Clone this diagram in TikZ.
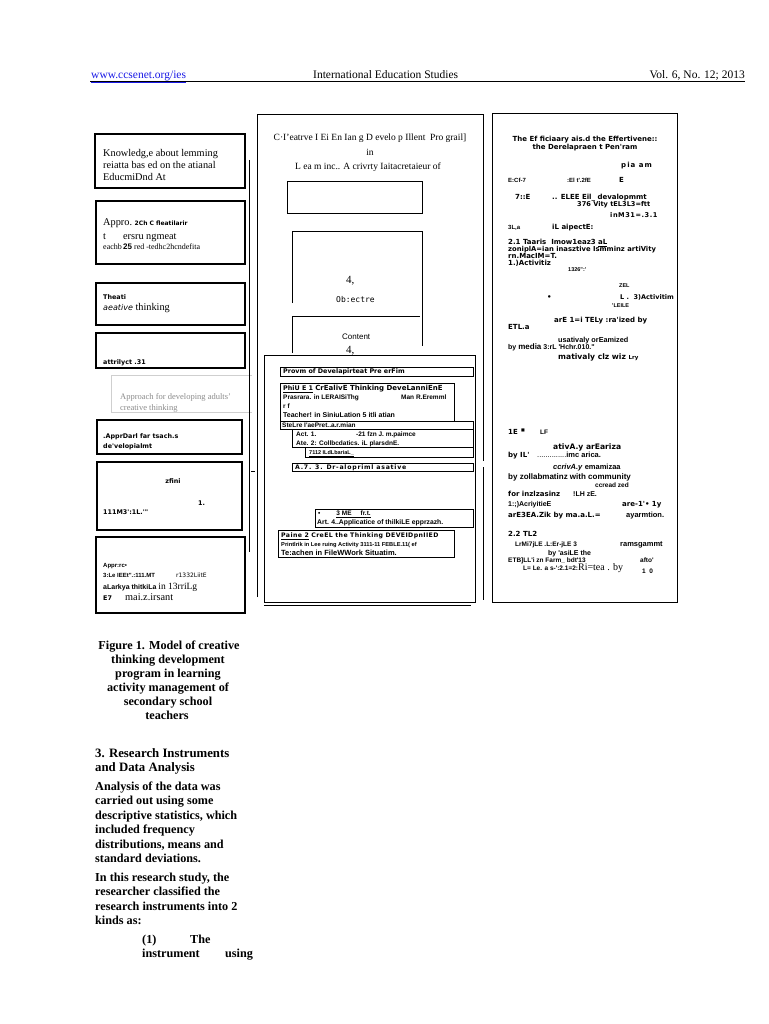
\documentclass[tikz,border=0pt]{standalone}
\usepackage{fontspec}
\setmainfont{Liberation Serif}
\newfontfamily\verd{DejaVu Sans}
\newfontfamily\arialf{Liberation Sans}
\newfontfamily\monof{DejaVu Sans Mono}

\definecolor{linkblue}{HTML}{1A1AE6}
\definecolor{faint}{HTML}{CFCFCF}
\definecolor{fainttext}{HTML}{8C8C8C}

\tikzset{
    frame/.style={line width=1.4pt},
    thin frame/.style={line width=0.9pt},
    lbl/.style={inner sep=0pt, anchor=base west},
    serif/.style={lbl, yshift=-3.3pt, font=\fontsize{9.5}{11}\selectfont},
    lserif/.style={lbl, yshift=-3.4pt, font=\fontsize{10.3}{12}\selectfont},
    scan/.style={lbl, yshift=-2.3pt, font=\verd\bfseries\fontsize{6.4}{7}\selectfont},
    scanr/.style={lbl, yshift=-2.4pt, font=\verd\bfseries\fontsize{7}{8}\selectfont},
    scanb/.style={lbl, yshift=-2.3pt, font=\arialf\bfseries\fontsize{6.5}{7}\selectfont},
    body/.style={lbl, yshift=-4pt, font=\bfseries\fontsize{12.2}{14}\selectfont},
    head/.style={lbl, yshift=-3.7pt, font=\fontsize{11.5}{13}\selectfont},
}

\begin{document}
\begin{tikzpicture}[x=1pt, y=-1pt]
    \fill [white] (0,0) rectangle (768,1024);
    \path [use as bounding box] (0,0) rectangle (768,1024);

    % running head
    \node [head, text=linkblue] (site) at (91,75) {\underline{www.ccsenet.org/ies}};
    \node [head] (journal) at (313,75) {International Education Studies};
    \node [head, anchor=base east] (volume) at (745,75) {Vol. 6,\ No. 12;\ 2013};
    \draw [line width=0.9pt]
        (90,81) -- (745,81)
        ;

    % left column
    \draw [frame]
        (95,134) rectangle (245,188)
        (96,201) rectangle (245,264)
        (96,283) rectangle (245,325)
        (96,333) rectangle (245,368)
        (97,420) rectangle (242,454)
        (97,462) rectangle (242,530)
        (96,537) rectangle (245,613)
        ;
    \draw [faint, line width=0.8pt]
        (252,375) -- (111,375) -- (111,412) -- (252,412)
        ;
    \draw [line width=1pt]
        (249,160) -- (249,552)
        (251,471) -- (255,471)
        ;

    \node [lserif] (know1) at (103,153) {Knowledg,e about lemming};
    \node [lserif] (know2) at (103,165) {reiatta bas ed on the atianal};
    \node [lserif] (know3) at (103,177) {EducmiDnd At};

    \node [lserif] (appr1) at (103,222) {Appro.\ {\verd\bfseries\fontsize{6}{7}\selectfont 2Ch C fleatilarir}};
    \node [lserif] (appr2) at (103,236) {t\hspace{17pt}ersru ngmeat};
    \node [lbl, yshift=-2.8pt, font=\fontsize{8}{9}\selectfont] (appr3) at (103,247) {eachb\,{\arialf\bfseries 25} red -tedhc2hcndefita};

    \node [scan] (theati) at (103,297) {Theati};
    \node [lserif] (aeative) at (103,307) {{\verd\itshape\fontsize{8}{9}\selectfont aeative} thinking};

    \node [scan] (attri) at (103,362) {attrilyct .31};

    \node [lbl, yshift=-3pt, text=fainttext, font=\fontsize{8.5}{10}\selectfont] (adult1) at (120,396) {Approach for developing adults'};
    \node [lbl, yshift=-3pt, text=fainttext, font=\fontsize{8.5}{10}\selectfont] (adult2) at (120,407) {creative thinking};

    \node [scan] (teach1) at (103,436) {.ApprDarl far tsach.s};
    \node [scan] (teach2) at (103,446) {de'velopialmt};

    \node [scan, anchor=base] (zfini) at (173,481) {zfini};
    \node [scan] (one) at (198,503) {1.};
    \node [scan] (mthree) at (103,512) {111M3':1L.'"};

    \node [scan, font=\arialf\bfseries\fontsize{6}{7}\selectfont] (apprc1) at (103,565) {Appr:rc•};
    \node [scan, font=\arialf\bfseries\fontsize{6}{7}\selectfont] (apprc2) at (103,575) {3:Le IEEt".:111.MT};
    \node [scan, font=\verd\fontsize{6}{7}\selectfont] (apprc3) at (176,575) {r1332LiitE};
    \node [scanb, font=\arialf\bfseries\fontsize{7}{8}\selectfont] (apprc4) at (103,587) {aLarkya thitkiLa {\mdseries\fontsize{9.5}{11}\rmfamily\selectfont in 13rriLg}};
    \node [scan] (apprc5) at (103,598) {E7};
    \node [lserif] (apprc6) at (125,597) {mai.z.irsant};

    % middle column
    \draw [thin frame]
        (257,597) -- (257,114) -- (483,114) -- (483,461)
        (483,467) -- (483,600)
        ;
    \node [serif, anchor=base] (title1) at (370,137) {C·I'eatrve I Ei En Ian g D evelo p Illent\ \ Pro grail]};
    \node [serif, anchor=base] (title2) at (370,152) {in};
    \node [serif, anchor=base] (title3) at (368,166) {L ea m inc.. A crivrty Iaitacretaieur of};

    \draw [thin frame]
        (287,181) rectangle (422,213)
        (292,303) -- (292,231) -- (422,231) -- (422,346)
        (292,353) -- (292,316) -- (420,316)
        ;
    \node [lbl, yshift=-3.5pt, font=\fontsize{11}{12}\selectfont] (four1) at (346,280) {4,};
    \node [lbl, yshift=-2.8pt, font=\monof\fontsize{8}{9}\selectfont] (objective) at (336,300) {Ob:ectre};
    \node [lbl, yshift=-2.8pt, font=\arialf\fontsize{8}{9}\selectfont] (content) at (342,337) {Content};

    \draw [thin frame, fill=white]
        (264,602) -- (264,355) -- (475,355) -- (475,602) -- cycle
        ;
    \draw [thin frame]
        (264,605) -- (471,605)
        ;
    \node [lbl, yshift=-3.5pt, font=\fontsize{11}{12}\selectfont] (four2) at (346,350) {4,};

    \draw [line width=0.9pt]
        (280,367) rectangle (473,376)
        (280,383) rectangle (454,421)
        (280,421) rectangle (473,429)
        (292,429) rectangle (473,447)
        (305,447) rectangle (473,457)
        (292,463) rectangle (473,471)
        (315,509) rectangle (473,527)
        (278,530) rectangle (454,557)
        ;
    \node [scan] (provm) at (283,371.5) {Provm of Develapirteat Pre erFim};
    \node [scan] (phase1a) at (283,388) {\underline{PhiU E 1} {\fontsize{7}{8}\selectfont CrEalivE Thinking DeveLanniEnE}};
    \node [scanb] (phase1b) at (283,397) {Prasrara. in LERAISiThg};
    \node [scanb] (phase1c) at (401,397) {Man R.Eremml};
    \node [scanb] (phase1d) at (283,406) {r f};
    \node [scanb, font=\arialf\bfseries\fontsize{7}{8}\selectfont] (phase1e) at (283,415) {Teacher! in SiniuLation 5 itli atian};
    \node [scanb] (steps) at (282,425) {\underline{SteLre I'aePret..a.r.mian}};
    \node [scanb] (act1) at (296,434) {Act. 1.};
    \node [scanb] (act1b) at (356,434) {-21 fzn J. m.paimce};
    \node [scanb] (act2) at (296,443) {Ate. 2: Collbcdatics. iL plarsdnE.};
    \node [scanb, font=\arialf\bfseries\fontsize{5.5}{6}\selectfont] (act2b) at (309,452) {\underline{7112 ILdLbariaL\_}};
    \node [scan, font=\verd\bfseries\fontsize{6.2}{7}\addfontfeature{LetterSpace=12}\selectfont] (act3) at (295,467) {A.7. 3. Dr-alopriml asative};
    \node [scanb] (act4a) at (318,513) {•\hspace{16pt}\underline{3 ME\hspace{9pt}fr.t.}};
    \node [scanb, font=\arialf\bfseries\fontsize{6.8}{7}\selectfont] (act4b) at (317,522) {Art. 4..Applicatice of thilkiLE epprzazh.};
    \node [scan, font=\verd\bfseries\fontsize{6.2}{7}\addfontfeature{LetterSpace=6}\selectfont] (phase2a) at (281,535) {\underline{Paine 2} CreEL the Thinking DEVEIDpnIIED};
    \node [scanb, font=\arialf\bfseries\fontsize{5.7}{6}\selectfont] (phase2b) at (281,544) {Printlrik in Lee ruing Activity 3111-11 FEBLE.11( ef};
    \node [scanb, font=\arialf\bfseries\fontsize{7.5}{8}\selectfont] (phase2c) at (281,553) {Te:achen in FileWWork Situatim.};

    % right column
    \draw [thin frame]
        (492,113) rectangle (677,602)
        ;
    \node [scanr, anchor=base] (eff1) at (585,139) {The Ef ficiaary ais.d the Effertivene::};
    \node [scanr, anchor=base] (eff2) at (585,147) {the Derelapraen t Pen'ram};
    \node [scanr, font=\verd\bfseries\fontsize{7}{8}\addfontfeature{LetterSpace=15}\selectfont] (prog) at (621,165) {pia am};
    \node [scanb, font=\arialf\bfseries\fontsize{6}{7}\selectfont] (r1a) at (508,180) {E:Cf-7};
    \node [scanb, font=\arialf\bfseries\fontsize{6}{7}\selectfont] (r1b) at (567,180) {:El t'.2fE};
    \node [scanr] (r1c) at (619,180) {E};
    \node [scanr] (r2a) at (515,197) {7::E};
    \node [scanr] (r2b) at (552,197) {.. ELEE Eil\_ devalopmmt};
    \node [scanr, font=\verd\bfseries\fontsize{6.6}{7}\selectfont] (r3) at (577,204) {376 Vity tEL3L3=ftt};
    \node [scanr, font=\verd\bfseries\fontsize{6.6}{7}\addfontfeature{LetterSpace=8}\selectfont] (r4) at (610,215) {inM31=.3.1};
    \node [scanb, font=\arialf\bfseries\fontsize{6}{7}\selectfont] (r5a) at (508,227) {3L,a};
    \node [scanr] (r5b) at (552,227) {iL aipectE:};
    \node [scanr] (r6) at (508,242) {2.1 Taaris\ \ Imow1eaz3 \underline{aL}};
    \node [scanr, font=\verd\bfseries\fontsize{6.8}{7}\selectfont] (r7) at (508,249) {zoniplA=ian inasztive Ismminz artiVity};
    \node [scanr] (r8) at (508,256) {rn.MacIM=T.};
    \node [scanr] (r9) at (508,263) {1.)Activitiz};
    \node [scanb, font=\arialf\bfseries\fontsize{5.5}{6}\selectfont] (r10) at (568,269) {1326":'};
    \node [scanb, font=\arialf\bfseries\fontsize{5.5}{6}\selectfont] (r11) at (619,285) {ZEL};
    \node [scanr] (r12a) at (547,297) {•};
    \node [scanr, font=\verd\bfseries\fontsize{6.5}{7}\selectfont] (r12b) at (620,297) {L .\ \ 3)Activitim};
    \node [scanb, font=\arialf\bfseries\fontsize{5.5}{6}\selectfont] (r13) at (612,305) {'LEILE};
    \node [scanr] (r14) at (554,320) {arE 1=i TELy :ra'ized by};
    \node [scanr] (r15) at (508,327) {ETL.a};
    \node [scanb, font=\arialf\bfseries\fontsize{7.3}{8}\selectfont] (r16) at (558,340) {usativaly orEamized};
    \node [scanb, font=\arialf\bfseries\fontsize{7}{8}\selectfont] (r17) at (508,347) {by {\fontsize{8}{9}\selectfont media} 3:rL 'Hchr.010."};
    \node [scanr, font=\verd\bfseries\fontsize{7.6}{8}\selectfont] (r18) at (558,357) {mativaly clz wiz {\fontsize{5.5}{6}\selectfont Lry}};

    \node [scanr] (r19a) at (508,432) {1E};
    \node [scan, font=\verd\fontsize{4}{5}\selectfont] (r19b) at (521,429) {■};
    \node [scanb] (r19c) at (540,432) {LF};
    \node [scanr, font=\verd\bfseries\fontsize{7.6}{8}\selectfont] (r20) at (553,447) {ativA.y arEariza};
    \node [scanr] (r21a) at (508,455) {by IL'};
    \node [scanb, font=\arialf\bfseries\fontsize{7.5}{8}\selectfont] (r21b) at (537,455) {{\mdseries ..............}imc arica.};
    \node [scanb, font=\arialf\bfseries\fontsize{7.5}{8}\selectfont] (r22) at (553,467) {\textit{ccrivA.y} emamizaa};
    \node [scanb, font=\arialf\bfseries\fontsize{8}{9}\selectfont] (r23) at (508,477) {by zollabmatinz with community};
    \node [scanb, font=\arialf\bfseries\fontsize{6.5}{7}\selectfont] (r24) at (595,485) {ccread zed};
    \node [scanr] (r25a) at (508,494) {for inzlzasinz};
    \node [scanb, font=\arialf\bfseries\fontsize{7}{8}\selectfont] (r25b) at (573,494) {!LH zE.};
    \node [scanb, font=\arialf\bfseries\fontsize{7}{8}\selectfont] (r26a) at (508,504) {1:;)AcriyitieE};
    \node [scanr] (r26b) at (622,504) {are-1'• 1y};
    \node [scanr] (r27a) at (508,515) {arE3EA.Zik by ma.a.L.=};
    \node [scanb, font=\arialf\bfseries\fontsize{7.5}{8}\selectfont] (r27b) at (626,515) {ayarmtion.};
    \node [scanr] (r28) at (508,534) {2.2 TL2};
    \node [scanb, font=\arialf\bfseries\fontsize{6.5}{7}\selectfont] (r29a) at (515,544) {LrMi7jLE .L:Er-jLE 3};
    \node [scanb, font=\arialf\bfseries\fontsize{7.5}{8}\selectfont] (r29b) at (620,544) {ramsgammt};
    \node [scanb, font=\arialf\bfseries\fontsize{7}{8}\selectfont] (r30) at (548,553) {by 'asiLE the};
    \node [scanb, font=\arialf\bfseries\fontsize{6.5}{7}\selectfont] (r31a) at (508,560) {ETB]LL'i zn Farm\_ bdt'13};
    \node [scanb, font=\arialf\bfseries\fontsize{6.5}{7}\selectfont] (r31b) at (640,560) {afto'};
    \node [scanb, font=\arialf\bfseries\fontsize{6.5}{7}\selectfont] (r32a) at (523,568) {L= Le. a s-':2.1=2:{\mdseries\rmfamily\fontsize{10}{11}\selectfont Ri=tea . by}};
    \node [scanb] (r32b) at (642,571) {1\ \ 0};

    % caption and text below the figure
    \node [body, anchor=base] (cap1) at (169,645) {Figure 1. Model of creative};
    \node [body, anchor=base] (cap2) at (168,659) {thinking development};
    \node [body, anchor=base] (cap3) at (168,673) {program in learning};
    \node [body, anchor=base] (cap4) at (168,687) {activity management of};
    \node [body, anchor=base] (cap5) at (168,701) {secondary school};
    \node [body, anchor=base] (cap6) at (167,715) {teachers};

    \node [body, font=\bfseries\fontsize{12.8}{14}\selectfont] (sec1) at (95,753) {3. Research Instruments};
    \node [body, font=\bfseries\fontsize{12.8}{14}\selectfont] (sec2) at (95,767) {and Data Analysis};

    \node [body] (par1) at (95,786) {Analysis of the data was};
    \node [body] (par2) at (95,800) {carried out using some};
    \node [body] (par3) at (95,815) {descriptive statistics, which};
    \node [body] (par4) at (95,829) {included frequency};
    \node [body] (par5) at (95,844) {distributions, means and};
    \node [body] (par6) at (95,858) {standard deviations.};

    \node [body] (par7) at (95,877) {In this research study, the};
    \node [body] (par8) at (95,891) {researcher classified the};
    \node [body] (par9) at (95,906) {research instruments into 2};
    \node [body] (par10) at (95,920) {kinds as:};

    \node [body] (item1a) at (142,939) {(1)};
    \node [body] (item1b) at (190,939) {The};
    \node [body] (item2a) at (142,953) {instrument};
    \node [body] (item2b) at (225,953) {using};
\end{tikzpicture}
\end{document}
